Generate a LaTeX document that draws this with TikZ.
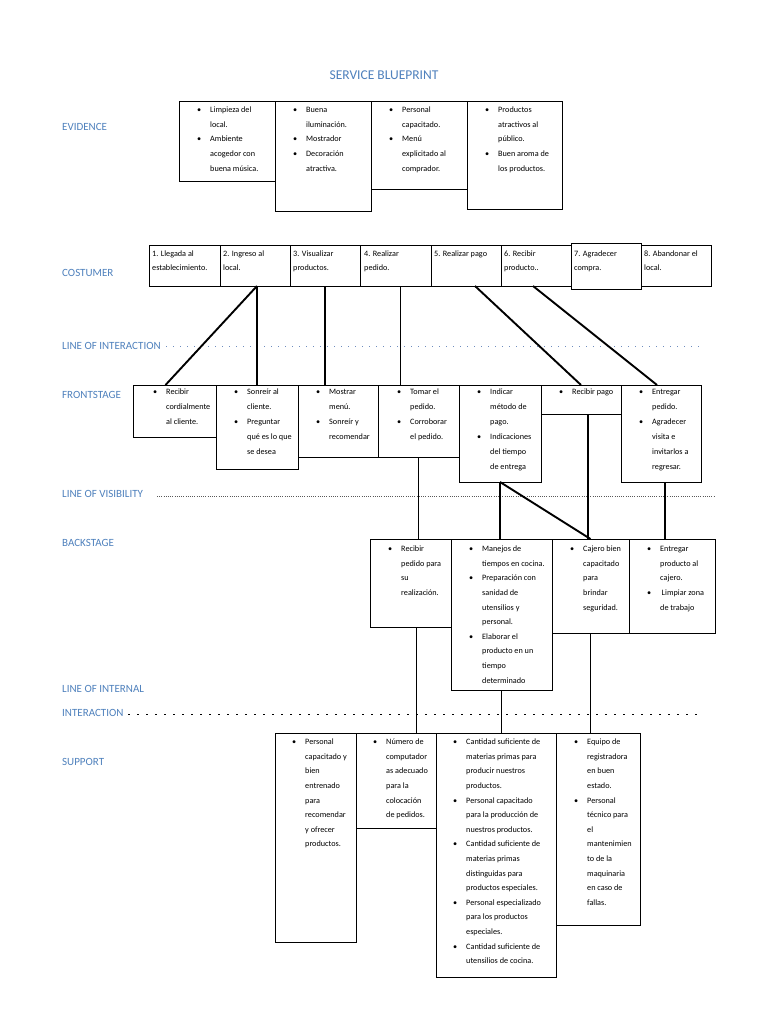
\documentclass[tikz,border=0pt]{standalone}
\usepackage{fontspec}
\setmainfont{Carlito}
\usetikzlibrary{calc}
\definecolor{lblblue}{RGB}{79,129,189}
\definecolor{dotblue}{RGB}{110,140,190}
\newcommand\bu{\makebox[13pt][l]{\textbullet}}
\newcommand\ct{\hspace*{13pt}}
\newcommand\fl{\rule{0pt}{7pt}}
\begin{document}
\begin{tikzpicture}[x=1pt,y=-1pt,
  bx/.style={draw=black, line width=0.9pt, anchor=north west, inner sep=0pt, outer sep=0pt, fill=white},
  tx/.style={anchor=north west, inner sep=0pt, align=left, font=\fontsize{8.2}{14.6}\selectfont},
  txf/.style={tx, font=\fontsize{8.2}{15}\selectfont},
  txc/.style={tx, font=\fontsize{8.2}{14}\selectfont},
  lbl/.style={anchor=west, inner sep=0pt, text=lblblue, font=\fontsize{11}{13}\selectfont},
  cn/.style={line width=1.9pt, black}]
\useasboundingbox (0,0) rectangle (768,1024);
\fill[white] (0,0) rectangle (768,1024);

% title and lane labels
\node[inner sep=0pt, text=lblblue, font=\fontsize{13.5}{15}\selectfont] (title) at (384,75) {SERVICE BLUEPRINT};
\node[lbl] (levid) at (62,127) {EVIDENCE};
\node[lbl] (lcost) at (62,273) {COSTUMER};
\node[lbl] (lint) at (62,346) {LINE OF INTERACTION};
\node[lbl] (lfront) at (62,395) {FRONTSTAGE};
\node[lbl] (lvis) at (62,494) {LINE OF VISIBILITY};
\node[lbl] (lback) at (62,543) {BACKSTAGE};
\node[lbl] (linti) at (62,689) {LINE OF INTERNAL};
\node[lbl] (lintii) at (62,713) {INTERACTION};
\node[lbl] (lsup) at (62,762) {SUPPORT};

% separation lines
\coordinate (i1) at (166,346); \coordinate (i2) at (704,346);
\draw[dotblue, line width=1pt, dash pattern=on 1pt off 6pt] (i1) -- (i2);
\coordinate (v1) at (157,496); \coordinate (v2) at (714,496);
\draw[black!65, line width=1pt, dash pattern=on 1pt off 1.2pt] (v1) -- (v2);
\coordinate (n1) at (128,714); \coordinate (n2) at (698,714);
\draw[black, line width=1pt, dash pattern=on 2pt off 7pt] (n1) -- (n2);

% EVIDENCE
\node[bx, minimum width=96pt, minimum height=80pt] (e1) at (179,101) {};
\node[bx, minimum width=96pt, minimum height=110pt] (e2) at (275,101) {};
\node[bx, minimum width=96pt, minimum height=88pt] (e3) at (371,101) {};
\node[bx, minimum width=95pt, minimum height=108pt] (e4) at (467,101) {};
\node[tx] (te1) at (197,105.5) {\fl\bu Limpieza del\\ \ct local.\\ \bu Ambiente\\ \ct acogedor con\\ \ct buena música.};
\node[tx] (te2) at (293,105.5) {\fl\bu Buena\\ \ct iluminación.\\ \bu Mostrador\\ \bu Decoración\\ \ct atractiva.};
\node[tx] (te3) at (389,105.5) {\fl\bu Personal\\ \ct capacitado.\\ \bu Menú\\ \ct explicitado al\\ \ct comprador.};
\node[tx] (te4) at (485,105.5) {\fl\bu Productos\\ \ct atractivos al\\ \ct público.\\ \bu Buen aroma de\\ \ct los productos.};

% COSTUMER
\node[bx, minimum width=71pt, minimum height=41pt] (c1) at (149,245) {};
\node[bx, minimum width=70pt, minimum height=41pt] (c2) at (220,245) {};
\node[bx, minimum width=70pt, minimum height=41pt] (c3) at (290,245) {};
\node[bx, minimum width=71pt, minimum height=41pt] (c4) at (360,245) {};
\node[bx, minimum width=70pt, minimum height=41pt] (c5) at (431,245) {};
\node[bx, minimum width=70pt, minimum height=41pt] (c6) at (501,245) {};
\node[bx, minimum width=70pt, minimum height=46pt] (c7) at (571,243) {};
\node[bx, minimum width=70pt, minimum height=41pt] (c8) at (641,245) {};
\node[txc] (tc1) at (152,249.5) {\fl 1. Llegada al\\ establecimiento.};
\node[txc] (tc2) at (223,249.5) {\fl 2. Ingreso al\\ local.};
\node[txc] (tc3) at (293,249.5) {\fl 3. Visualizar\\ productos.};
\node[txc] (tc4) at (364,249.5) {\fl 4. Realizar\\ pedido.};
\node[txc] (tc5) at (434,249.5) {\fl 5. Realizar pago};
\node[txc] (tc6) at (504,249.5) {\fl 6. Recibir\\ producto..};
\node[txc] (tc7) at (574,249.5) {\fl 7. Agradecer\\ compra.};
\node[txc] (tc8) at (644,249.5) {\fl 8. Abandonar el\\ local.};

% FRONTSTAGE
\node[bx, minimum width=83pt, minimum height=52pt] (f1) at (133,385) {};
\node[bx, minimum width=82pt, minimum height=84pt] (f2) at (216,385) {};
\node[bx, minimum width=80pt, minimum height=72pt] (f3) at (298,385) {};
\node[bx, minimum width=81pt, minimum height=72pt] (f4) at (378,385) {};
\node[bx, minimum width=82pt, minimum height=97pt] (f5) at (459,385) {};
\node[bx, minimum width=80pt, minimum height=29pt] (f6) at (541,385) {};
\node[bx, minimum width=80pt, minimum height=97pt] (f7) at (621,385) {};
\node[txf] (tf1) at (153,387.5) {\fl\bu Recibir\\ \ct cordialmente\\ \ct al cliente.};
\node[txf] (tf2) at (234,387.5) {\fl\bu Sonreír al\\ \ct cliente.\\ \bu Preguntar\\ \ct qué es lo que\\ \ct se desea};
\node[txf] (tf3) at (316,387.5) {\fl\bu Mostrar\\ \ct menú.\\ \bu Sonreír y\\ \ct recomendar};
\node[txf] (tf4) at (397,387.5) {\fl\bu Tomar el\\ \ct pedido.\\ \bu Corroborar\\ \ct el pedido.};
\node[txf] (tf5) at (477,387.5) {\fl\bu Indicar\\ \ct método de\\ \ct pago.\\ \bu Indicaciones\\ \ct del tiempo\\ \ct de entrega};
\node[txf] (tf6) at (559,387.5) {\fl\bu Recibir pago};
\node[txf] (tf7) at (639,387.5) {\fl\bu Entregar\\ \ct pedido.\\ \bu Agradecer\\ \ct visita e\\ \ct invitarlos a\\ \ct regresar.};

% BACKSTAGE
\node[bx, minimum width=81pt, minimum height=88pt] (b1) at (370,539) {};
\node[bx, minimum width=101pt, minimum height=151pt] (b2) at (451,539) {};
\node[bx, minimum width=77pt, minimum height=94pt] (b3) at (552,539) {};
\node[bx, minimum width=86pt, minimum height=94pt] (b4) at (629,539) {};
\node[tx] (tb1) at (388,544.5) {\fl\bu Recibir\\ \ct pedido para\\ \ct su\\ \ct realización.};
\node[tx] (tb2) at (469,544.5) {\fl\bu Manejos de\\ \ct tiempos en cocina.\\ \bu Preparación con\\ \ct sanidad de\\ \ct utensilios y\\ \ct personal.\\ \bu Elaborar el\\ \ct producto en un\\ \ct tiempo\\ \ct determinado};
\node[tx] (tb3) at (570,544.5) {\fl\bu Cajero bien\\ \ct capacitado\\ \ct para\\ \ct brindar\\ \ct seguridad.};
\node[tx] (tb4) at (647,544.5) {\fl\bu Entregar\\ \ct producto al\\ \ct cajero.\\ \bu\hspace*{1.5pt}Limpiar zona\\ \ct de trabajo};

% SUPPORT
\node[bx, minimum width=81pt, minimum height=209pt] (s1) at (275,733) {};
\node[bx, minimum width=80pt, minimum height=95pt] (s2) at (356,733) {};
\node[bx, minimum width=120pt, minimum height=244pt] (s3) at (436,733) {};
\node[bx, minimum width=84pt, minimum height=192pt] (s4) at (556,733) {};
\node[tx] (ts1) at (292,737.5) {\fl\bu Personal\\ \ct capacitado y\\ \ct bien\\ \ct entrenado\\ \ct para\\ \ct recomendar\\ \ct y ofrecer\\ \ct productos.};
\node[tx] (ts2) at (373,737.5) {\fl\bu Número de\\ \ct computador\\ \ct as adecuado\\ \ct para la\\ \ct colocación\\ \ct de pedidos.};
\node[tx] (ts3) at (453,737.5) {\fl\bu Cantidad suficiente de\\ \ct materias primas para\\ \ct producir nuestros\\ \ct productos.\\ \bu Personal capacitado\\ \ct para la producción de\\ \ct nuestros productos.\\ \bu Cantidad suficiente de\\ \ct materias primas\\ \ct distinguidas para\\ \ct productos especiales.\\ \bu Personal especializado\\ \ct para los productos\\ \ct especiales.\\ \bu Cantidad suficiente de\\ \ct utensilios de cocina.};
\node[tx] (ts4) at (574,737.5) {\fl\bu Equipo de\\ \ct registradora\\ \ct en buen\\ \ct estado.\\ \bu Personal\\ \ct técnico para\\ \ct el\\ \ct mantenimien\\ \ct to de la\\ \ct maquinaria\\ \ct en caso de\\ \ct fallas.};

% connectors customer -> frontstage
\draw[cn] ($(c2.south)+(2,0)$) -- ($(f1.north)+(-9,0)$);
\draw[cn] ($(c2.south)+(2,0)$) -- ($(c2.south |- f2.north)+(2,0)$);
\draw[cn] (c3.south) -- (c3.south |- f3.north);
\draw[cn] ($(c4.south)+(5,0)$) -- ($(c4.south |- f4.north)+(5,0)$);
\draw[cn] ($(c5.south)+(9,0)$) -- (f6.north);
\draw[cn] ($(c6.south)+(-3,0)$) -- ($(f7.north)+(-4,0)$);
% frontstage -> backstage
\draw[cn] (f4.south) -- (f4.south |- b1.north);
\draw[cn] (f5.south) -- (f5.south |- b2.north);
\draw[cn] (f5.south) -- (b3.north);
\draw[cn] ($(f6.south)+(7,0)$) -- ($(f6.south |- b3.north)+(7,0)$);
\draw[cn] ($(f7.south)+(4,0)$) -- ($(f7.south |- b4.north)+(4,0)$);
% backstage -> support
\draw[cn] ($(b1.south)+(6,0)$) -- ($(b1.south |- s2.north)+(6,0)$);
\draw[cn] (b2.south) -- (b2.south |- s3.north);
\draw[cn] (b3.south) -- (b3.south |- s4.north);
\end{tikzpicture}
\end{document}
